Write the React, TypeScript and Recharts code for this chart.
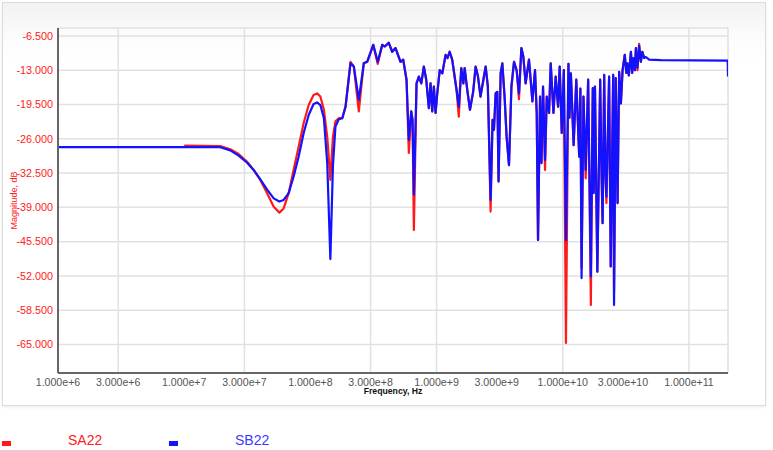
import { CartesianGrid, Label, Line, LineChart, XAxis, YAxis } from 'recharts';

// frequency points, Hz
const freqHz = [
  1.0e6, 1.0e7, 1.93e7, 2.32e7, 2.7e7, 3.14e7, 3.55e7, 4.01e7, 4.53e7, 5.12e7,
  5.68e7, 6.14e7, 6.73e7, 7.36e7, 8.07e7, 8.85e7, 9.7e7, 1.06e8, 1.13e8, 1.2e8,
  1.28e8, 1.36e8, 1.44e8, 1.51e8, 1.58e8, 1.68e8, 1.79e8, 1.9e8, 2.08e8, 2.21e8,
  2.42e8, 2.65e8, 2.82e8, 3.15e8, 3.42e8, 3.71e8, 3.89e8, 4.18e8, 4.45e8, 4.73e8,
  5.18e8, 5.44e8, 5.78e8, 6.03e8, 6.3e8, 6.45e8, 6.61e8, 6.94e8, 7.24e8, 7.57e8,
  7.93e8, 8.28e8, 8.69e8, 8.96e8, 9.24e8, 9.52e8, 9.82e8, 1.01e9, 1.06e9, 1.11e9,
  1.18e9, 1.22e9, 1.27e9, 1.33e9, 1.44e9, 1.5e9, 1.57e9, 1.63e9, 1.67e9, 1.75e9,
  1.84e9, 1.95e9, 2.04e9, 2.13e9, 2.23e9, 2.35e9, 2.45e9, 2.55e9, 2.68e9, 2.78e9,
  2.85e9, 2.94e9, 3.03e9, 3.1e9, 3.22e9, 3.32e9, 3.46e9, 3.59e9, 3.75e9, 3.92e9,
  4.11e9, 4.31e9, 4.5e9, 4.7e9, 4.87e9, 5.08e9, 5.4e9, 5.75e9, 6.03e9, 6.22e9,
  6.37e9, 6.61e9, 6.78e9, 6.98e9, 7.24e9, 7.47e9, 7.79e9, 8.03e9, 8.44e9, 8.79e9,
  9.18e9, 9.46e9, 9.82e9, 1.02e10, 1.06e10, 1.11e10, 1.13e10, 1.16e10, 1.22e10, 1.28e10,
  1.35e10, 1.38e10, 1.41e10, 1.46e10, 1.52e10, 1.59e10, 1.67e10, 1.73e10, 1.76e10, 1.8e10,
  1.88e10, 1.98e10, 2.02e10, 2.07e10, 2.13e10, 2.18e10, 2.22e10, 2.33e10, 2.4e10, 2.51e10,
  2.55e10, 2.63e10, 2.72e10, 2.8e10, 2.89e10, 2.98e10, 3.1e10, 3.19e10, 3.26e10, 3.34e10,
  3.47e10, 3.55e10, 3.64e10, 3.73e10, 3.8e10, 3.91e10, 4.03e10, 4.16e10, 4.27e10, 4.42e10,
  4.56e10, 4.84e10, 6.0e10, 2.03e11, 2.04e11,
];

// magnitude, dB
const sa22 = [
  null, -27.3, -27.4, -28.0, -28.9, -30.3, -31.9, -33.8, -36.3, -38.9,
  -40.0, -39.2, -36.3, -31.9, -27.5, -23.0, -19.6, -17.7, -17.4, -18.0,
  -20.5, -25.6, -33.8, -25.6, -22.7, -22.1, -22.1, -19.9, -11.4, -12.3,
  -20.8, -11.7, -11.4, -8.2, -11.8, -8.2, -8.5, -7.8, -9.5, -8.8,
  -11.4, -11.0, -14.8, -28.7, -20.8, -22.4, -43.3, -15.5, -14.2, -15.5,
  -12.3, -14.8, -20.2, -15.5, -20.8, -16.1, -21.1, -17.7, -13.0, -13.6,
  -10.1, -10.7, -9.5, -11.0, -16.7, -21.8, -12.6, -15.5, -12.6, -16.7,
  -20.5, -17.1, -12.3, -14.2, -18.0, -14.8, -12.3, -16.1, -39.8, -22.4,
  -24.3, -17.4, -17.1, -34.1, -13.6, -11.7, -18.0, -25.6, -31.0, -16.1,
  -11.4, -13.0, -18.5, -8.8, -10.4, -15.5, -11.0, -18.9, -13.0, -21.1,
  -45.2, -18.0, -30.6, -16.1, -31.9, -18.0, -21.1, -11.7, -21.1, -14.2,
  -19.9, -12.3, -24.9, -13.0, -64.7, -11.8, -22.0, -13.6, -27.2, -14.8,
  -29.4, -16.5, -50.5, -18.0, -33.5, -14.8, -57.5, -16.4, -36.0, -16.1,
  -51.2, -14.8, -30.0, -42.0, -13.9, -33.0, -38.2, -14.2, -50.2, -13.9,
  -55.0, -14.5, -38.2, -13.3, -19.3, -13.0, -10.1, -13.5, -11.7, -14.0,
  -9.5, -13.5, -10.7, -13.0, -8.8, -13.0, -8.0, -11.4, -9.5, -10.7,
  null, null, null, null, null,
];

const sb22 = [
  -27.6, -27.6, -27.6, -28.2, -29.2, -30.5, -31.9, -33.7, -35.6, -37.3,
  -37.9, -37.6, -36.3, -33.2, -29.4, -24.9, -21.5, -19.4, -19.1, -19.6,
  -22.1, -30.6, -48.8, -31.0, -23.7, -22.3, -22.1, -19.9, -11.7, -12.3,
  -18.6, -11.7, -11.4, -8.2, -11.4, -8.2, -8.5, -7.8, -9.5, -8.8,
  -11.4, -11.0, -14.8, -26.2, -20.8, -22.4, -36.6, -15.5, -14.2, -15.5,
  -12.3, -14.8, -20.2, -15.5, -20.8, -16.1, -21.1, -17.7, -13.0, -13.6,
  -10.1, -10.7, -9.5, -11.0, -16.7, -19.9, -12.6, -15.5, -12.6, -16.7,
  -20.5, -17.1, -12.3, -14.2, -18.0, -14.8, -12.3, -16.1, -37.6, -22.4,
  -24.3, -17.4, -17.1, -34.1, -13.6, -11.7, -18.0, -25.6, -31.0, -16.1,
  -11.4, -13.0, -17.4, -8.8, -10.4, -15.5, -11.0, -18.9, -13.0, -21.1,
  -45.2, -18.0, -30.6, -16.1, -30.0, -18.0, -21.1, -11.7, -21.1, -14.2,
  -19.9, -12.3, -24.9, -13.0, -45.2, -11.8, -22.0, -13.6, -27.2, -14.8,
  -29.4, -16.5, -52.4, -18.0, -31.9, -14.8, -52.1, -16.4, -36.3, -16.1,
  -51.2, -14.8, -30.0, -42.0, -13.9, -33.0, -37.0, -14.2, -50.2, -13.9,
  -57.5, -14.5, -38.2, -13.3, -19.3, -13.0, -10.1, -13.5, -11.7, -14.0,
  -9.5, -13.5, -10.7, -13.0, -8.8, -12.5, -8.4, -11.4, -9.5, -10.7,
  -10.5, -11.0, -11.1, -11.2, -14.2,
];

const xTicks = [1e6, 3e6, 1e7, 3e7, 1e8, 3e8, 1e9, 3e9, 1e10, 3e10, 1e11];
const yTicks = [-6.5, -13, -19.5, -26, -32.5, -39, -45.5, -52, -58.5, -65];

const series = [
  { key: 'SA22', color: '#ff1a1a', text: '#ff2020' },
  { key: 'SB22', color: '#1212ff', text: '#3a3aff' },
];

const data = freqHz.map((f, i) => ({ f, SA22: sa22[i], SB22: sb22[i] }));

const font = '"Liberation Sans", Arial, sans-serif';

export default function App() {
  return (
    <div style={{ position: 'absolute', left: 0, top: 0, width: 773, height: 450, overflow: 'hidden', fontFamily: font }}>
      <div
        style={{
          position: 'absolute', left: 2, top: 2, width: 762, height: 402,
          border: '1px solid #dcdcdc',
          background: 'linear-gradient(to bottom, #f2f2f2 0px, #fbfbfb 30px, #ffffff 60px)',
          boxShadow: '0 1px 3px rgba(0,0,0,0.08)',
        }}
      />
      <div style={{ position: 'absolute', left: 0, top: 0 }}>
        <LineChart width={773} height={410} data={data} margin={{ top: 28, right: 45, bottom: 7, left: 0 }} style={{ fontFamily: font }}>
          <CartesianGrid stroke="#e1e1e1" strokeWidth={1.5} />
          <XAxis
            dataKey="f"
            type="number"
            scale="log"
            domain={[1e6, 2.04e11]}
            ticks={xTicks}
            allowDataOverflow
            height={30}
            tickSize={0}
            tickMargin={5}
            tickFormatter={(v: number) => v.toExponential(3)}
            tick={{ fill: '#555', fontSize: 10.6 }}
            axisLine={{ stroke: '#666', strokeWidth: 2 }}
          >
            <Label value="Frequency, Hz" position="insideBottom" offset={9} style={{ fill: '#111', fontSize: 8.7, fontWeight: 'bold' }} />
          </XAxis>
          <XAxis xAxisId="top" orientation="top" height={0} tick={false} tickLine={false} axisLine={{ stroke: '#666', strokeWidth: 2 }} />
          <YAxis
            type="number"
            domain={[-70.4, -5]}
            ticks={yTicks}
            allowDataOverflow
            width={58}
            tickSize={0}
            tickMargin={5}
            tickFormatter={(v: number) => v.toFixed(3)}
            tick={{ fill: '#ff2020', fontSize: 10.8 }}
            axisLine={{ stroke: '#666', strokeWidth: 2 }}
          >
            <Label value="Magnitude, dB" angle={-90} position="center" dx={-15} style={{ fill: '#ff2020', fontSize: 9, textAnchor: 'middle' }} />
          </YAxis>
          <YAxis yAxisId="right" orientation="right" width={0} tick={false} tickLine={false} axisLine={{ stroke: '#666', strokeWidth: 2 }} />
          {series.map((s) => (
            <Line
              key={s.key}
              dataKey={s.key}
              type="linear"
              stroke={s.color}
              strokeWidth={2.2}
              strokeLinejoin="round"
              dot={false}
              activeDot={false}
              isAnimationActive={false}
            />
          ))}
        </LineChart>
      </div>
      {series.map((s, i) => (
        <div key={s.key} style={{ position: 'absolute', left: 2 + i * 167, top: 432, height: 16 }}>
          <div style={{ position: 'absolute', left: 0, top: 9, width: 9, height: 5, background: s.color }} />
          <div style={{ position: 'absolute', left: 66, top: 0, color: s.text, fontSize: 14, whiteSpace: 'nowrap' }}>{s.key}</div>
        </div>
      ))}
    </div>
  );
}
